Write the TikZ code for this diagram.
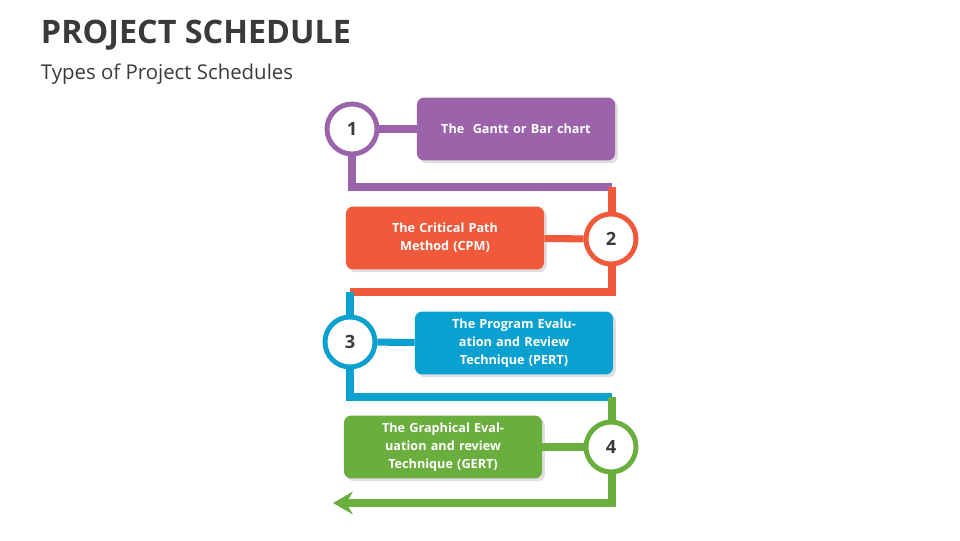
\documentclass[tikz,border=0pt]{standalone}
\usepackage{fontspec}
\setmainfont{Open Sans}
\usetikzlibrary{arrows.meta,shadows}
\definecolor{cpurple}{HTML}{9B63AA}
\definecolor{corange}{HTML}{F05A3A}
\definecolor{cblue}{HTML}{0AA0D0}
\definecolor{cgreen}{HTML}{6AAE3E}
\definecolor{ctitle}{HTML}{3A3A3A}
\tikzset{
  stepcircle/.style={circle, draw=#1, line width=3.5pt, fill=white, minimum size=1.25cm,
    inner sep=0pt, font=\fontsize{13}{13}\selectfont\bfseries, text=ctitle},
  stepbox/.style={rounded corners=5pt, fill=#1, minimum width=4.95cm, minimum height=1.57cm,
    text width=4.3cm, align=center, text=white, font=\fontsize{9}{13}\selectfont\bfseries,
    drop shadow={opacity=0.25, shadow xshift=2pt, shadow yshift=-2pt}},
  flow/.style={draw=#1, line width=5pt}
}
\begin{document}
\begin{tikzpicture}[x=0.025cm, y=-0.025cm, >=Stealth]
    %% Background
    \useasboundingbox (0,0) rectangle (960,540);

    %% Titles
    \node[anchor=west, text=ctitle, font=\fontsize{23}{23}\selectfont\bfseries] (title) at (36,35) {PROJECT SCHEDULE};
    \node[anchor=west, text=ctitle, font=\fontsize{14.5}{14.5}\selectfont] (subtitle) at (36,74) {Types of Project Schedules};

    %% Corners of the path
    \coordinate (q1) at (612,187);
    \coordinate (q2) at (350,292);
    \coordinate (q3) at (612,397);
    \coordinate (q4) at (333,503);

    %% Boxes
    \node[stepbox=cpurple] (box1) at (516,129) {The \ Gantt or Bar chart};
    \node[stepbox=corange] (box2) at (445,238) {The Critical Path Method (CPM)};
    \node[stepbox=cblue]   (box3) at (514,343) {The Program Evaluation and Review Technique (PERT)};
    \node[stepbox=cgreen]  (box4) at (443,447) {The Graphical Evaluation and review Technique (GERT)};

    %% Path segments
    \draw[flow=cpurple] (352,129) |- (q1);
    \draw[flow=corange] (q1) -- (612,239) |- (q2);
    \draw[flow=cblue]   (q2) -- (350,342) |- (q3);
    \draw[flow=cgreen, -{Stealth[length=14pt, width=16pt]}] (q3) -- (612,447) |- (q4);

    %% Circles
    \node[stepcircle=cpurple] (c1) at (352,129) {1};
    \node[stepcircle=corange] (c2) at (611,239) {2};
    \node[stepcircle=cblue]   (c3) at (350,342) {3};
    \node[stepcircle=cgreen]  (c4) at (611,447) {4};

    %% Links
    \draw[flow=cpurple] (c1) -- (box1);
    \draw[flow=corange] (box2) -- (c2);
    \draw[flow=cblue]   (c3) -- (box3);
    \draw[flow=cgreen]  (box4) -- (c4);
\end{tikzpicture}
\end{document}
